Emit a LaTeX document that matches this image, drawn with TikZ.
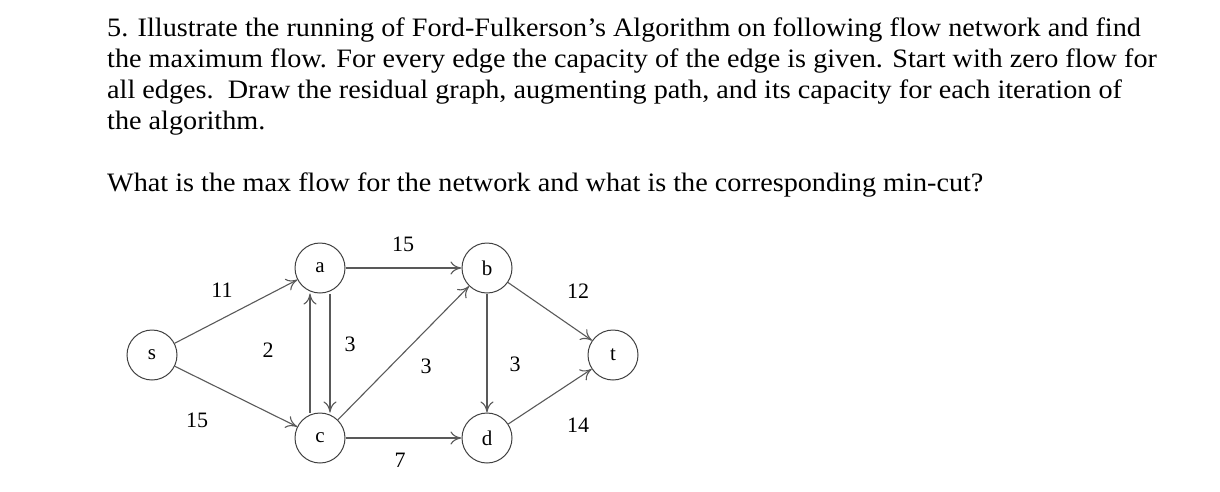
\documentclass[tikz,border=0pt]{standalone}
\usepackage{fontspec}
\setmainfont{Liberation Serif}
\usetikzlibrary{arrows.meta}
\newcommand{\wline}[1]{\scalebox{1.06}[1]{#1}}
\begin{document}
\begin{tikzpicture}[x=1pt,y=-1pt,
  vtx/.style={circle,draw=black!75,line width=1pt,minimum size=50pt,inner sep=0pt,font=\fontsize{21}{24}\selectfont},
  edge/.style={draw=black!65,line width=1.1pt,-{To[length=11pt,width=13pt]}},
  lab/.style={font=\fontsize{22}{24}\selectfont},
  txt/.style={anchor=base west,inner sep=0pt,font=\fontsize{26.6}{30}\selectfont}]
\useasboundingbox (0,0) rectangle (1220,491);
\node[txt] (l1) at (107,36) {\wline{5. Illustrate the running of Ford-Fulkerson’s Algorithm on following flow network and find}};
\node[txt] (l2) at (107,67) {\wline{the maximum flow. For every edge the capacity of the edge is given. Start with zero flow for}};
\node[txt] (l3) at (107,98) {\wline{all edges.\ \ Draw the residual graph, augmenting path, and its capacity for each iteration of}};
\node[txt] (l4) at (107,129) {\wline{the algorithm.}};
\node[txt] (l5) at (107,191) {\wline{What is the max flow for the network and what is the corresponding min-cut?}};
\node[vtx] (s) at (152,355) {s};
\node[vtx] (a) at (320,268) {a};
\node[vtx] (b) at (487,268) {b};
\node[vtx] (c) at (320,438) {c};
\node[vtx] (d) at (487,438) {d};
\node[vtx] (t) at (613,355) {t};
\draw[edge] (s) -- (a);
\draw[edge] (s) -- (c);
\draw[edge] (a) -- (b);
\draw[edge] ([xshift=-10pt]c.north) -- ([xshift=-10pt]a.south);
\draw[edge] ([xshift=10pt]a.south) -- ([xshift=10pt]c.north);
\draw[edge] (c) -- (b);
\draw[edge] (b) -- (d);
\draw[edge] (c) -- (d);
\draw[edge] (b) -- (t);
\draw[edge] (d) -- (t);
\node[lab] (w1) at (222,290) {11};
\node[lab] (w2) at (197,420) {15};
\node[lab] (w3) at (403,244) {15};
\node[lab] (w4) at (268,350) {2};
\node[lab] (w5) at (350,344) {3};
\node[lab] (w6) at (426,366) {3};
\node[lab] (w7) at (515,364) {3};
\node[lab] (w8) at (400,460) {7};
\node[lab] (w9) at (578,291) {12};
\node[lab] (w10) at (578,425) {14};
\end{tikzpicture}
\end{document}
